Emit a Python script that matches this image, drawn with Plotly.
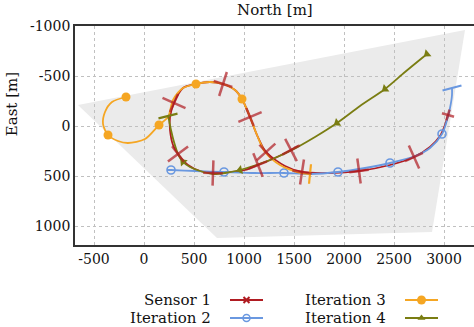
import numpy as np
import plotly.graph_objects as go

# ---------------- data ----------------
region_north = [-660, 3210, 2880, 730]
region_east = [-210, -960, 1060, 1120]

sensor1_north = [3040, 3010, 2960, 2860, 2700, 2460, 2150, 1860, 1580, 1410, 1220, 1130, 1060, 980, 910, 790,
                 660, 520, 390, 300, 260, 260, 290, 340, 440, 560, 690, 860, 1010, 1140, 1310, 1470, 1540]
sensor1_east = [-110, -10, 100, 210, 310, 390, 450, 470, 460, 400, 260, 90, -90, -270, -360, -420,
                -440, -420, -380, -230, -90, 40, 190, 280, 390, 450, 470, 460, 440, 390, 320, 240, 200]
sensor1_marks = [0, 4, 6, 8, 10, 12, 15, 19, 23, 26, 29, 31]

iter2_north = [3080, 3080, 3060, 3030, 2980, 2860, 2710, 2460, 2210, 1940, 1660, 1400, 1110, 800, 510, 270, 230]
iter2_east = [-380, -310, -180, -60, 80, 220, 300, 370, 420, 460, 480, 470, 470, 460, 450, 440, 440]
iter2_marks = [4, 7, 9, 11, 13, 15]

iter3_north = [1660, 1560, 1360, 1210, 1130, 1060, 980, 910, 790, 660, 520, 390, 290, 240, 150, 10,
               -160, -260, -360, -410, -390, -320, -180]
iter3_east = [480, 470, 390, 260, 90, -90, -270, -360, -420, -440, -420, -380, -260, -90, -10, 130,
              170, 150, 90, -20, -140, -240, -290]
iter3_marks = [6, 10, 14, 18, 22]

iter4_north = [2830, 2610, 2410, 2160, 1930, 1710, 1480, 1260, 1060, 960, 810, 690, 560, 460, 390, 340,
               300, 270, 250, 240]
iter4_east = [-720, -540, -370, -200, -30, 110, 240, 340, 410, 440, 470, 480, 450, 410, 360, 280,
              160, 40, -60, -100]
iter4_marks = [0, 2, 4, 9, 14]

x_ticks = [-500, 0, 500, 1000, 1500, 2000, 2500, 3000]
x_tick_labels = ["-500", "0", "500", "1000", "1500", "2000", "2500", "3000"]
y_ticks = [-1000, -500, 0, 500, 1000]
y_tick_labels = ["-1000", "-500", "0", "500", "1000"]

series_names = ["Sensor 1", "Iteration 2", "Iteration 3", "Iteration 4"]

# ---------------- style ----------------
RED = "#b01c22"
BLUE = "#6a98e0"
ORANGE = "#f5a623"
OLIVE = "#7a7d12"
FONT = "DejaVu Serif"


def headings(xs, ys):
    xs = np.asarray(xs, float)
    ys = np.asarray(ys, float)
    n = len(xs)
    out = []
    for i in range(n):
        a = max(i - 1, 0)
        b = min(i + 1, n - 1)
        out.append(float(np.degrees(np.arctan2(ys[b] - ys[a], xs[b] - xs[a]))))
    return out


def pick(lst, idx):
    return [lst[i] for i in idx]


fig = go.Figure()

# coverage region (as shape below grid)
path = "M " + " L ".join(f"{x},{y}" for x, y in zip(region_north, region_east)) + " Z"
fig.add_shape(type="path", path=path, xref="x", yref="y", fillcolor="#ebebeb",
              line=dict(width=0), layer="below")

LW = 1.8

# sensor 1 line
fig.add_trace(go.Scatter(x=sensor1_north, y=sensor1_east, mode="lines",
                         line=dict(color=RED, width=LW, shape="spline", smoothing=0.8),
                         showlegend=False, hoverinfo="skip"))

# iteration 2
h2 = headings(iter2_north, iter2_east)
fig.add_trace(go.Scatter(x=iter2_north, y=iter2_east, mode="lines",
                         line=dict(color=BLUE, width=LW, shape="spline", smoothing=0.8),
                         showlegend=False, hoverinfo="skip"))
fig.add_trace(go.Scatter(x=pick(iter2_north, iter2_marks), y=pick(iter2_east, iter2_marks), mode="markers",
                         marker=dict(symbol="circle-open", size=8, color=BLUE, line=dict(width=1.6, color=BLUE)),
                         showlegend=False, hoverinfo="skip"))
fig.add_trace(go.Scatter(x=[iter2_north[0]], y=[iter2_east[0]], mode="markers",
                         marker=dict(symbol="line-ns", size=14, angle=[h2[0] - 15], line=dict(width=2.2, color=BLUE)),
                         showlegend=False, hoverinfo="skip"))

# iteration 3
h3 = headings(iter3_north, iter3_east)
fig.add_trace(go.Scatter(x=iter3_north, y=iter3_east, mode="lines",
                         line=dict(color=ORANGE, width=LW, shape="spline", smoothing=0.8),
                         showlegend=False, hoverinfo="skip"))
fig.add_trace(go.Scatter(x=pick(iter3_north, iter3_marks), y=pick(iter3_east, iter3_marks), mode="markers",
                         marker=dict(symbol="circle", size=9, color=ORANGE),
                         showlegend=False, hoverinfo="skip"))
fig.add_trace(go.Scatter(x=[iter3_north[0]], y=[iter3_east[0]], mode="markers",
                         marker=dict(symbol="line-ns", size=14, angle=[h3[0]], line=dict(width=2.2, color=ORANGE)),
                         showlegend=False, hoverinfo="skip"))

# iteration 4
h4 = headings(iter4_north, iter4_east)
fig.add_trace(go.Scatter(x=iter4_north, y=iter4_east, mode="lines",
                         line=dict(color=OLIVE, width=LW, shape="spline", smoothing=0.8),
                         showlegend=False, hoverinfo="skip"))
fig.add_trace(go.Scatter(x=pick(iter4_north, iter4_marks), y=pick(iter4_east, iter4_marks), mode="markers",
                         marker=dict(symbol="triangle-up", size=8, color=OLIVE,
                                     angle=[a + 90 for a in pick(h4, iter4_marks)]),
                         showlegend=False, hoverinfo="skip"))
fig.add_trace(go.Scatter(x=[iter4_north[-1]], y=[iter4_east[-1]], mode="markers",
                         marker=dict(symbol="line-ns", size=14, angle=[h4[-1]], line=dict(width=2.2, color=OLIVE)),
                         showlegend=False, hoverinfo="skip"))

# sensor 1 aircraft-like markers (on top)
h1 = headings(sensor1_north, sensor1_east)
mx = pick(sensor1_north, sensor1_marks)
my = pick(sensor1_east, sensor1_marks)
ma = pick(h1, sensor1_marks)
wing_sizes = [9] + [18] * (len(sensor1_marks) - 1)
body_sizes = [8] + [14] * (len(sensor1_marks) - 1)
fig.add_trace(go.Scatter(x=mx, y=my, mode="markers",
                         marker=dict(symbol="line-ns", size=wing_sizes, angle=ma, line=dict(width=2.5, color=RED)),
                         showlegend=False, hoverinfo="skip"))
fig.add_trace(go.Scatter(x=mx, y=my, mode="markers",
                         marker=dict(symbol="line-ew", size=body_sizes, angle=ma, line=dict(width=2.5, color=RED)),
                         showlegend=False, hoverinfo="skip"))

# ---------------- manual legend (pixel-like coordinates on helper axes) ----------------
leg_rows = [300, 318]
leg_text_right = [213, 388]
leg_line = [(230, 263), (405, 438)]
legend_specs = [
    (series_names[0], 0, 0, RED, dict(symbol="x-thin", size=6, line=dict(width=2, color=RED))),
    (series_names[1], 0, 1, BLUE, dict(symbol="circle-open", size=7, color=BLUE, line=dict(width=1.5, color=BLUE))),
    (series_names[2], 1, 0, ORANGE, dict(symbol="circle", size=9, color=ORANGE)),
    (series_names[3], 1, 1, OLIVE, dict(symbol="triangle-up", size=7, color=OLIVE)),
]
for name, col, row, color, mk in legend_specs:
    x0, x1 = leg_line[col]
    yy = leg_rows[row]
    fig.add_trace(go.Scatter(x=[x0, x1], y=[yy, yy], mode="lines", xaxis="x2", yaxis="y2",
                             line=dict(color=color, width=1.8), showlegend=False, hoverinfo="skip",
                             cliponaxis=False))
    fig.add_trace(go.Scatter(x=[(x0 + x1) / 2], y=[yy], mode="markers", xaxis="x2", yaxis="y2",
                             marker=mk, showlegend=False, hoverinfo="skip", cliponaxis=False))
    fig.add_annotation(x=leg_text_right[col], y=yy, xref="x2", yref="y2", text=name, showarrow=False,
                       xanchor="right", yanchor="middle", font=dict(family=FONT, size=15, color="#111"))

# axis titles
fig.add_annotation(x=0.5, y=1, xref="paper", yref="paper", yshift=16, text="North [m]", showarrow=False,
                   xanchor="center", yanchor="middle", font=dict(family=FONT, size=15, color="#111"))
fig.add_annotation(x=-63 / 399, y=0.74, xref="paper", yref="paper", text="East [m]", showarrow=False,
                   textangle=-90, xanchor="center", yanchor="middle",
                   font=dict(family=FONT, size=15, color="#111"))

Y_DOM0 = 82 / 301

fig.update_layout(
    width=474, height=327,
    margin=dict(l=75, r=0, t=26, b=0),
    paper_bgcolor="white", plot_bgcolor="white",
    showlegend=False,
    font=dict(family=FONT, size=14, color="#111"),
    xaxis=dict(domain=[0, 1], range=[-690, 3300], tickvals=x_ticks, ticktext=x_tick_labels,
               showgrid=True, gridcolor="#c0c0c0", griddash="dot", gridwidth=1,
               zeroline=False, showline=True, linecolor="#333", linewidth=1.8, mirror=True,
               ticks="", anchor="y", tickfont=dict(family=FONT, size=14)),
    yaxis=dict(domain=[Y_DOM0, 1], range=[1190, -1000], tickvals=y_ticks, ticktext=y_tick_labels,
               showgrid=True, gridcolor="#c0c0c0", griddash="dot", gridwidth=1,
               zeroline=False, showline=True, linecolor="#333", linewidth=1.8, mirror=False,
               ticks="", anchor="x", tickfont=dict(family=FONT, size=14)),
    xaxis2=dict(domain=[0, 1], range=[75, 474], visible=False, anchor="y2", fixedrange=True),
    yaxis2=dict(domain=[0, Y_DOM0], range=[327, 245], visible=False, anchor="x2", fixedrange=True),
)

fig.write_html("out.html")
